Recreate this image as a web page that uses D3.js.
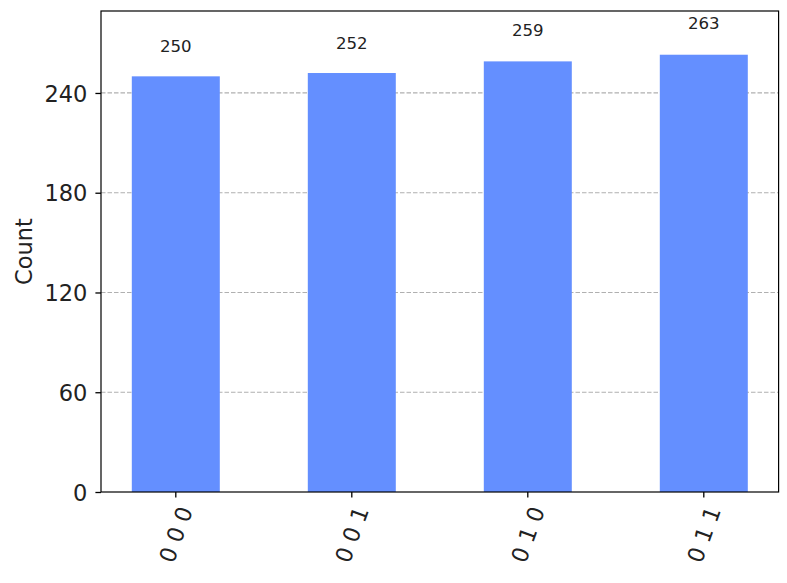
<!DOCTYPE html>
<html>
<head>
    <title>Histogram counts</title>
    <script src="https://d3js.org/d3.v7.min.js"></script>
    <style>
        body { margin: 0; background: #fff; }
        svg { display: block; font-family: "DejaVu Sans", sans-serif; }
    </style>
</head>
<body>
    <svg width="787" height="583"></svg>

    <script>
    // data
    const states = ["0 0 0", "0 0 1", "0 1 0", "0 1 1"];
    const counts = [250, 252, 259, 263];
    const yTicks = [0, 60, 120, 180, 240];

    const svg = d3.select("svg");
    const plotL = 101, plotT = 11, plotR = 778.6, plotB = 492;

    const x = d3.scaleLinear()
                .domain([-0.425, states.length - 1 + 0.425])
                .range([plotL, plotR]);

    const y = d3.scaleLinear()
                .domain([0, d3.max(counts) * 1.1])
                .range([plotB, plotT]);

    const barW = x(0.5) - x(0);

    // grid lines
    svg.append("g")
        .selectAll("line")
        .data(yTicks.filter(t => t > 0))
        .enter().append("line")
        .attr("x1", plotL).attr("x2", plotR)
        .attr("y1", d => y(d)).attr("y2", d => y(d))
        .style("stroke", "#b0b0b0")
        .style("stroke-width", 1.2)
        .style("stroke-dasharray", "4.5,2");

    // bars
    svg.append("g")
        .selectAll("rect")
        .data(counts)
        .enter().append("rect")
        .attr("x", (d, i) => x(i) - barW / 2)
        .attr("width", barW)
        .attr("y", d => y(d))
        .attr("height", d => plotB - y(d))
        .style("fill", "#648fff");

    // value labels above bars
    svg.append("g")
        .selectAll("text")
        .data(counts)
        .enter().append("text")
        .attr("x", (d, i) => x(i))
        .attr("y", d => y(d * 1.05) - 3.5)
        .attr("text-anchor", "middle")
        .style("font-size", "16.6px")
        .style("fill", "#222")
        .text(d => d);

    // y axis
    const yAxis = d3.axisLeft(y)
                    .tickValues(yTicks)
                    .tickSize(5.6)
                    .tickPadding(8);
    const gy = svg.append("g")
        .attr("transform", `translate(${plotL},0)`)
        .call(yAxis);
    gy.select(".domain").remove();
    gy.selectAll(".tick line").style("stroke", "#000").style("stroke-width", 1.3);
    gy.selectAll(".tick text")
        .style("font-family", "DejaVu Sans")
        .style("font-size", "22.5px")
        .style("fill", "#222")
        .attr("dy", "0.36em");

    // x axis ticks and rotated labels
    const gx = svg.append("g");
    gx.selectAll("line")
        .data(states)
        .enter().append("line")
        .attr("x1", (d, i) => x(i)).attr("x2", (d, i) => x(i))
        .attr("y1", plotB).attr("y2", plotB + 5.6)
        .style("stroke", "#000")
        .style("stroke-width", 1.3);

    const fs = 22.5, rot = 70 * Math.PI / 180;
    gx.selectAll("text")
        .data(states)
        .enter().append("text")
        .attr("text-anchor", "middle")
        .attr("dominant-baseline", "central")
        .style("font-size", fs + "px")
        .style("fill", "#222")
        .text(d => d)
        .each(function(d, i) {
            const L = this.getComputedTextLength();
            const h = fs * 1.16;
            const H = L * Math.sin(rot) + h * Math.cos(rot);
            const cx = x(i), cy = plotB + 5.6 + 5.6 + H / 2;
            d3.select(this)
              .attr("transform", `translate(${cx},${cy}) rotate(-70)`);
        });

    // frame
    svg.append("rect")
        .attr("x", plotL).attr("y", plotT)
        .attr("width", plotR - plotL).attr("height", plotB - plotT)
        .style("fill", "none")
        .style("stroke", "#000")
        .style("stroke-width", 1.2);

    // y label
    svg.append("text")
        .attr("transform", `translate(31.5,${(plotT + plotB) / 2}) rotate(-90)`)
        .attr("text-anchor", "middle")
        .style("font-size", "22.5px")
        .style("fill", "#222")
        .text("Count");
    </script>
</body>
</html>
